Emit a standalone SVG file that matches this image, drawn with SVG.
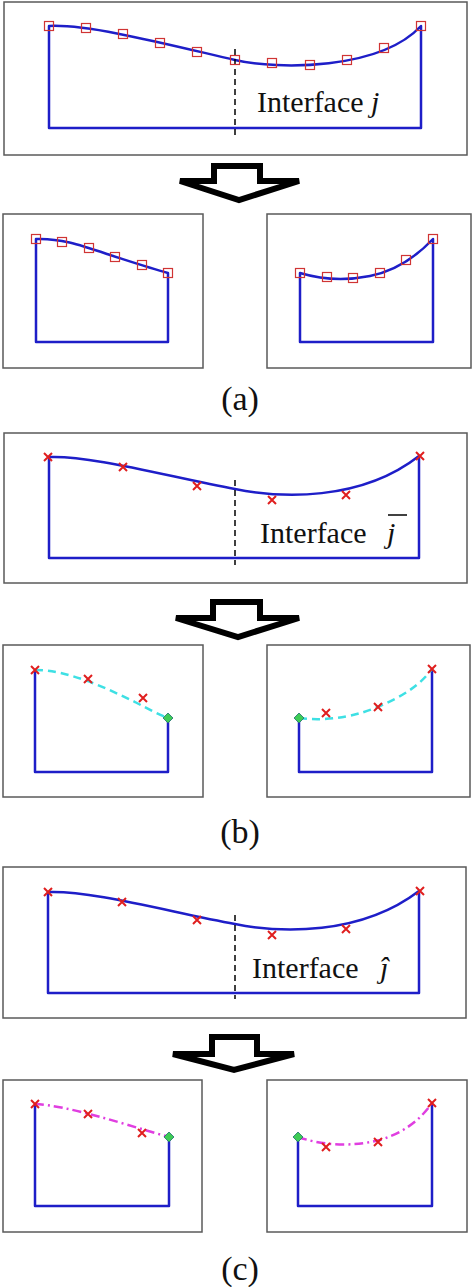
<svg xmlns="http://www.w3.org/2000/svg" width="474" height="1287" viewBox="0 0 474 1287">
<style>
.frame{fill:#fff;stroke:#5a5a5a;stroke-width:1.5}
.shape{fill:none;stroke:#1e1ec8;stroke-width:2.5;stroke-linejoin:round}
.cut{stroke:#000;stroke-width:1.5;stroke-dasharray:6,4}
.sq{fill:none;stroke:#d03434;stroke-width:1.2}
.cx{stroke:#e01e1e;stroke-width:2;fill:none}
.dm{fill:#3ecc55;stroke:#1e6e6e;stroke-width:0.8}
.cyan{fill:none;stroke:#3ee0e4;stroke-width:2.5;stroke-dasharray:8,5}
.mag{fill:none;stroke:#e03ee0;stroke-width:2.5;stroke-dasharray:9,4,2,4}
.arrow{fill:#fff;stroke:#000;stroke-width:6}
.lbl{fill:#111}
</style>
<defs>
<rect id="s" x="-4.5" y="-4.5" width="9" height="9" class="sq"/>
<path id="x" d="M-4,-4L4,4M-4,4L4,-4" class="cx"/>
<path id="d" d="M0,-5L5,0L0,5L-5,0Z" class="dm"/>
</defs>
<rect width="474" height="1287" fill="#fff"/>

<g id="panel-a-top">
<rect class="frame" x="4" y="2" width="463" height="153"/>
<path class="shape" d="M49,26 C90,24 170,45 235,60 C278,70 380,70 421,26 L421,128 L49,128 Z"/>
<line class="cut" x1="235" y1="49" x2="235" y2="135"/>
<use href="#s" x="49" y="26"/><use href="#s" x="86" y="28"/><use href="#s" x="123" y="34"/><use href="#s" x="160" y="43"/><use href="#s" x="197" y="52"/><use href="#s" x="235" y="60"/><use href="#s" x="272" y="63"/><use href="#s" x="310" y="65"/><use href="#s" x="347" y="60"/><use href="#s" x="384" y="48"/><use href="#s" x="421" y="26"/>
<text class="lbl" x="257" y="112" font-size="30" font-family="'Liberation Serif','Times New Roman',serif">Interface <tspan font-style="italic">j</tspan></text>
</g>
<g id="panel-a-left">
<rect class="frame" x="3" y="214" width="200" height="154"/>
<path class="shape" d="M36,239 C60,238 80,245 110,255 C135,263 150,268 168,273 L168,342 L36,342 Z"/>
<use href="#s" x="36" y="239"/><use href="#s" x="62" y="242"/><use href="#s" x="89" y="248"/><use href="#s" x="115" y="257"/><use href="#s" x="142" y="265"/><use href="#s" x="168" y="273"/>
</g>
<g id="panel-a-right">
<rect class="frame" x="267" y="214" width="204" height="154"/>
<path class="shape" d="M300,273 C320,279 345,281 370,276 C395,271 415,258 433,239 L433,342 L300,342 Z"/>
<use href="#s" x="300" y="273"/><use href="#s" x="327" y="277"/><use href="#s" x="353" y="278"/><use href="#s" x="380" y="273"/><use href="#s" x="406" y="260"/><use href="#s" x="433" y="239"/>
</g>
<text id="label-a" class="lbl" x="240" y="410" font-size="34" text-anchor="middle" font-family="'Liberation Serif','Times New Roman',serif">(a)</text>

<g id="panel-b-top">
<rect class="frame" x="4" y="433" width="463" height="150"/>
<path class="shape" d="M49,457 C90,455 170,477 235,489 C280,498 360,502 419,456 L419,558 L49,558 Z"/>
<line class="cut" x1="235" y1="480" x2="235" y2="565"/>
<use href="#x" x="48" y="457"/><use href="#x" x="123" y="467"/><use href="#x" x="197" y="486"/><use href="#x" x="272" y="500"/><use href="#x" x="346" y="495"/><use href="#x" x="420" y="456"/>
<text class="lbl" x="260" y="543" font-size="30" font-family="'Liberation Serif','Times New Roman',serif">Interface<tspan x="387" font-style="italic">j</tspan></text>
<line x1="388" y1="515" x2="407" y2="515" stroke="#111" stroke-width="1.6"/>
</g>
<g id="panel-b-left">
<rect class="frame" x="3" y="645" width="200" height="152"/>
<path class="shape" d="M168,718 L168,772 L35,772 L35,670"/>
<path class="cyan" d="M35,670 C70,670 110,690 135,702 C150,710 160,715 168,718"/>
<use href="#x" x="35" y="670"/><use href="#x" x="88" y="679"/><use href="#x" x="143" y="698"/>
<use href="#d" x="168" y="718"/>
</g>
<g id="panel-b-right">
<rect class="frame" x="267" y="645" width="203" height="152"/>
<path class="shape" d="M299,718 L299,772 L432,772 L432,669"/>
<path class="cyan" d="M299,718 C330,722 360,715 380,706 C405,695 420,685 432,669"/>
<use href="#x" x="326" y="713"/><use href="#x" x="378" y="707"/><use href="#x" x="432" y="669"/>
<use href="#d" x="299" y="718"/>
</g>
<text id="label-b" class="lbl" x="240" y="843" font-size="34" text-anchor="middle" font-family="'Liberation Serif','Times New Roman',serif">(b)</text>

<g id="panel-c-top">
<rect class="frame" x="3" y="867" width="463" height="151"/>
<path class="shape" d="M48,892 C90,890 170,912 235,924 C280,933 360,936 419,891 L419,993 L48,993 Z"/>
<line class="cut" x1="235" y1="915" x2="235" y2="999"/>
<use href="#x" x="48" y="892"/><use href="#x" x="122" y="902"/><use href="#x" x="197" y="920"/><use href="#x" x="272" y="935"/><use href="#x" x="346" y="929"/><use href="#x" x="420" y="891"/>
<text class="lbl" x="252" y="978" font-size="30" font-family="'Liberation Serif','Times New Roman',serif">Interface<tspan x="380" font-style="italic">ĵ</tspan></text>
</g>
<g id="panel-c-left">
<rect class="frame" x="3" y="1080" width="199" height="152"/>
<path class="shape" d="M169,1137 L169,1206 L35,1206 L35,1104"/>
<path class="mag" d="M35,1104 C70,1106 120,1123 169,1137"/>
<use href="#x" x="35" y="1104"/><use href="#x" x="88" y="1114"/><use href="#x" x="142" y="1133"/>
<use href="#d" x="169" y="1137"/>
</g>
<g id="panel-c-right">
<rect class="frame" x="267" y="1080" width="200" height="152"/>
<path class="shape" d="M298,1137 L298,1206 L432,1206 L432,1103"/>
<path class="mag" d="M298,1137 C330,1148 360,1145 380,1140 C405,1132 420,1120 432,1103"/>
<use href="#x" x="326" y="1147"/><use href="#x" x="378" y="1142"/><use href="#x" x="432" y="1103"/>
<use href="#d" x="298" y="1137"/>
</g>
<text id="label-c" class="lbl" x="240" y="1280" font-size="34" text-anchor="middle" font-family="'Liberation Serif','Times New Roman',serif">(c)</text>

<g id="connectors">
<polygon class="arrow" points="214,166 260,166 260,181 299,181 239,200 180,181 214,181"/>
<polygon class="arrow" points="213,602 260,602 260,618 299,618 238,637 176,618 213,618"/>
<polygon class="arrow" points="212,1037 257,1037 257,1054 294,1054 234,1070 173,1054 212,1054"/>
</g>
</svg>
